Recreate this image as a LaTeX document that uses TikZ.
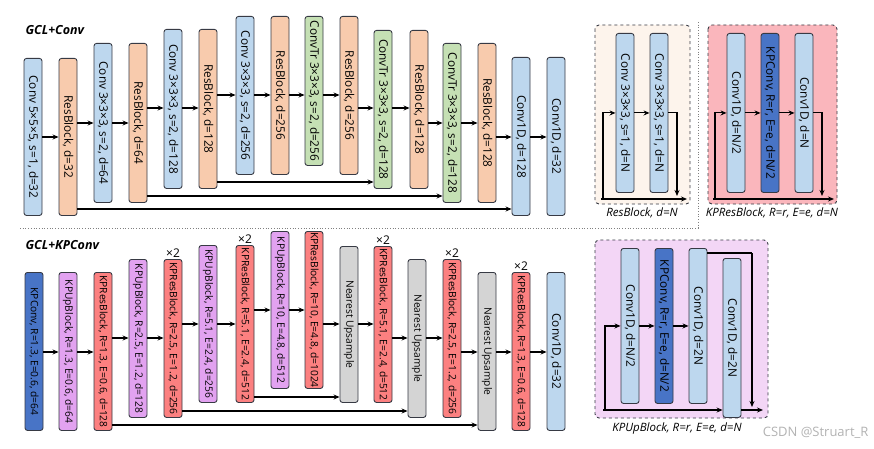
\documentclass[tikz,border=0pt]{standalone}
\usepackage{fontspec}
\setmainfont{Open Sans}
\usetikzlibrary{arrows.meta}
\definecolor{cbl}{RGB}{189,215,238}
\definecolor{pe}{RGB}{248,203,173}
\definecolor{gr}{RGB}{197,224,180}
\definecolor{kr}{RGB}{252,128,128}
\definecolor{vi}{RGB}{226,162,240}
\definecolor{db}{RGB}{72,116,198}
\definecolor{gy}{RGB}{212,212,212}
\definecolor{resfill}{RGB}{253,244,236}
\definecolor{kpfill}{RGB}{250,182,188}
\definecolor{upfill}{RGB}{243,214,246}
\definecolor{edge}{RGB}{55,58,68}
\tikzset{
  blk/.style={draw=edge, line width=0.9pt, rounded corners=2.5pt, inner sep=0pt,
    minimum width=18pt, anchor=north, font=\fontsize{11.8}{12}\selectfont},
  kp/.style={blk, font=\fontsize{10.2}{11}\selectfont},
  arr/.style={-{Stealth[length=6pt,width=5pt]}, line width=1.1pt},
  ln/.style={line width=1.1pt},
  inset/.style={draw=edge, dashed, line width=0.9pt, rounded corners=4pt},
  caption/.style={font=\fontsize{11.5}{12}\selectfont\itshape},
  ttl/.style={font=\fontsize{12.5}{13}\selectfont\bfseries\itshape, anchor=west},
  times/.style={font=\fontsize{12}{12}\selectfont, anchor=south, inner sep=1pt}
}
% name, x, top, bottom, style, text
\newcommand\blk[6]{\node[#5, minimum height={#4pt-#3pt}] (#1) at (#2,-#3) {\rotatebox{-90}{#6}};}
\begin{document}
\begin{tikzpicture}[x=1pt,y=1pt]
\useasboundingbox (0,0) rectangle (874,-449);
% separators
\draw[dotted, gray, line width=0.7pt] (20,-228) -- (698,-228);
\draw[dotted, gray, line width=0.7pt] (698,-22) -- (698,-228);
\node[ttl] (title1) at (22,-30) {GCL+Conv};
\node[ttl] (title2) at (22,-245) {GCL+KPConv};
% top row
\blk{t1}{33}{58}{215}{blk,fill=cbl}{Conv 5×5×5, s=1, d=32}
\blk{t2}{68}{58}{215}{blk,fill=pe}{ResBlock, d=32}
\blk{t3}{103}{43}{202}{blk,fill=cbl}{Conv 3×3×3, s=2, d=64}
\blk{t4}{138}{43}{202}{blk,fill=pe}{ResBlock, d=64}
\blk{t5}{173}{29}{188}{blk,fill=cbl}{Conv 3×3×3, s=2, d=128}
\blk{t6}{208}{29}{188}{blk,fill=pe}{ResBlock, d=128}
\blk{t7}{245}{16}{174}{blk,fill=cbl}{Conv 3×3×3, s=2, d=256}
\blk{t8}{280}{16}{174}{blk,fill=pe}{ResBlock, d=256}
\blk{t9}{314}{16}{165}{blk,fill=gr}{ConvTr 3×3×3, s=2, d=256}
\blk{t10}{349}{16}{174}{blk,fill=pe}{ResBlock, d=256}
\blk{t11}{383}{30}{188}{blk,fill=gr}{ConvTr 3×3×3, s=2, d=128}
\blk{t12}{419}{30}{188}{blk,fill=pe}{ResBlock, d=128}
\blk{t13}{452}{43}{202}{blk,fill=gr}{ConvTr 3×3×3, s=2, d=128}
\blk{t14}{487}{43}{202}{blk,fill=pe}{ResBlock, d=128}
\blk{t15}{521}{57}{215}{blk,fill=cbl}{Conv1D, d=128}
\blk{t16}{556}{57}{215}{blk,fill=cbl}{Conv1D, d=32}
\foreach \a/\b/\y in {1/2/137,2/3/123,3/4/123,4/5/108,5/6/108,6/7/95,7/8/95,8/9/95,
  9/10/95,10/11/108,11/12/108,12/13/123,13/14/123,14/15/137,15/16/137}
  \draw[arr] (t\a.east |- 0,-\y) -- (t\b.west |- 0,-\y);
\draw[arr] (t6.east |- 0,-182) -- (t11.west |- 0,-182);
\draw[arr] (t4.east |- 0,-196) -- (t13.west |- 0,-196);
\draw[arr] (t2.east |- 0,-209) -- (t15.west |- 0,-209);
% bottom row
\blk{b1}{34}{272}{430}{kp,fill=db}{KPConv, R=1.3, E=0.6, d=64}
\blk{b2}{68}{272}{430}{kp,fill=vi}{KPUpBlock, R=1.3, E=0.6, d=64}
\blk{b3}{103}{272}{430}{kp,fill=kr}{KPResBlock, R=1.3, E=0.6, d=128}
\blk{b4}{138}{259}{417}{kp,fill=vi}{KPUpBlock, R=2.5, E=1.2, d=128}
\blk{b5}{173}{259}{417}{kp,fill=kr}{KPResBlock, R=2.5, E=1.2, d=256}
\blk{b6}{208}{245}{402}{kp,fill=vi}{KPUpBlock, R=5.1, E=2.4, d=256}
\blk{b7}{245}{245}{402}{kp,fill=kr}{KPResBlock, R=5.1, E=2.4, d=512}
\blk{b8}{280}{231}{388}{kp,fill=vi}{KPUpBlock, R=10, E=4.8, d=512}
\blk{b9}{314}{231}{388}{kp,fill=kr}{KPResBlock, R=10, E=4.8, d=1024}
\blk{b10}{349}{246}{402}{kp,fill=gy}{Nearest Upsample}
\blk{b11}{383}{246}{402}{kp,fill=kr}{KPResBlock, R=5.1, E=2.4, d=512}
\blk{b12}{417}{259}{417}{kp,fill=gy}{Nearest Upsample}
\blk{b13}{452}{259}{417}{kp,fill=kr}{KPResBlock, R=2.5, E=1.2, d=256}
\blk{b14}{487}{272}{430}{kp,fill=gy}{Nearest Upsample}
\blk{b15}{521}{272}{430}{kp,fill=kr}{KPResBlock, R=1.3, E=0.6, d=128}
\blk{b16}{556}{272}{430}{blk,fill=cbl}{Conv1D, d=32}
\foreach \n in {5,7,11,13,15}
  \node[times] (x\n) at (b\n.north) {×2};
\foreach \a/\b/\y in {1/2/352,2/3/352,3/4/338,4/5/338,5/6/324,6/7/324,7/8/310,8/9/310,
  9/10/324,10/11/324,11/12/338,12/13/338,13/14/352,14/15/352,15/16/352}
  \draw[arr] (b\a.east |- 0,-\y) -- (b\b.west |- 0,-\y);
\draw[arr] (b7.east |- 0,-397) -- (b10.west |- 0,-397);
\draw[arr] (b5.east |- 0,-411) -- (b12.west |- 0,-411);
\draw[arr] (b3.east |- 0,-425) -- (b14.west |- 0,-425);
% ResBlock inset
\draw[inset, fill=resfill] (595,-25) rectangle (690,-204);
\blk{r1}{625}{33}{192}{blk,fill=cbl}{Conv 3×3×3, s=1, d=N}
\blk{r2}{659}{33}{192}{blk,fill=cbl}{Conv 3×3×3, s=1, d=N}
\coordinate (ri) at (601,-199);
\coordinate (ro) at (687,-199);
\coordinate (rd) at (677,-196);
\draw[arr] (603,-199) |- (r1.west);
\draw[arr] (r1) -- (r2);
\draw[arr] (r2.east) -| (rd);
\draw[arr] (ri) -- (ro);
\node[caption] (rcap) at (642,-213) {ResBlock, d=N};
% KPResBlock inset
\draw[inset, fill=kpfill] (708,-25) rectangle (837,-204);
\blk{k1}{736}{33}{192}{blk,fill=cbl}{Conv1D, d=N/2}
\blk{k2}{770}{33}{192}{blk,fill=db}{KPConv, R=r, E=e, d=N/2}
\blk{k3}{804}{33}{192}{blk,fill=cbl}{Conv1D, d=N}
\coordinate (ki) at (713,-199);
\coordinate (ko) at (834,-199);
\coordinate (kd) at (822,-196);
\draw[arr] (715,-199) |- (k1.west);
\draw[arr] (k1) -- (k2);
\draw[arr] (k2) -- (k3);
\draw[arr] (k3.east) -| (kd);
\draw[arr] (ki) -- (ko);
\node[caption] (kcap) at (772,-213) {KPResBlock, R=r, E=e, d=N};
% KPUpBlock inset
\draw[inset, fill=upfill] (595,-240) rectangle (768,-418);
\blk{u1}{630}{248}{403}{blk,fill=cbl}{Conv1D, d=N/2}
\blk{u2}{664}{248}{403}{blk,fill=db}{KPConv, R=r, E=e, d=N/2}
\blk{u3}{698}{248}{403}{blk,fill=cbl}{Conv1D, d=2N}
\blk{u4}{732}{258}{417}{blk,fill=cbl}{Conv1D, d=2N}
\coordinate (ui) at (603,-410);
\coordinate (ut) at (752,-253);
\coordinate (ud) at (752,-407);
\coordinate (uo) at (763,-410);
\draw[arr] (605,-410) |- (u1.west);
\draw[arr] (u1) -- (u2);
\draw[arr] (u2) -- (u3);
\draw[ln] (u3.east |- ut) -- (ut);
\draw[arr] (ut) -- (ud);
\draw[arr] (ui) -- (u4.west |- ui);
\draw[arr] (u4.east |- ui) -- (uo);
\node[caption] (ucap) at (677,-429) {KPUpBlock, R=r, E=e, d=N};
\node[font=\fontsize{13}{14}\selectfont, text=gray!60, anchor=east] (wm) at (872,-433) {CSDN @Struart\_R};
\end{tikzpicture}
\end{document}
